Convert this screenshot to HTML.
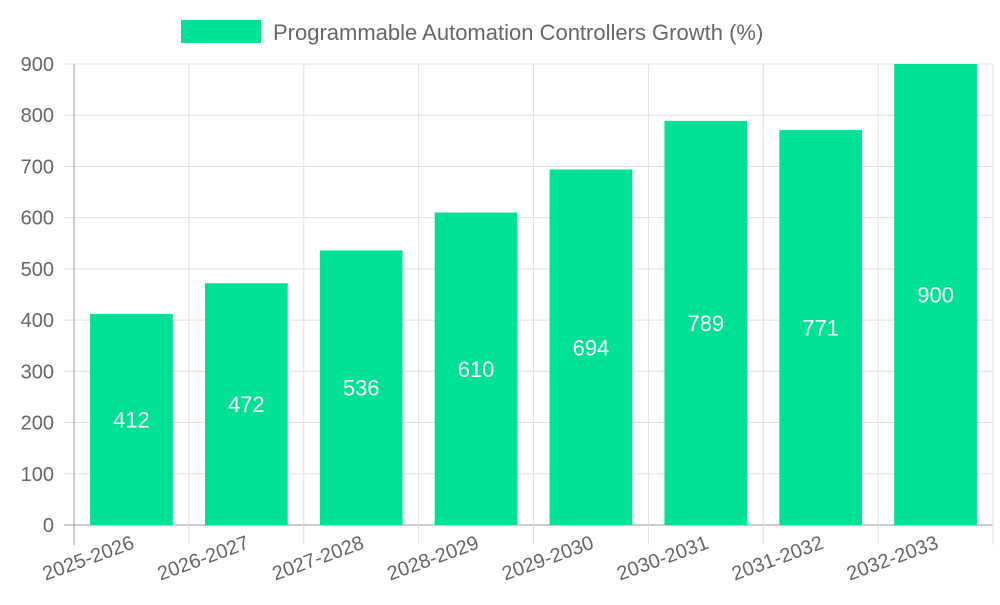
<!DOCTYPE html>
<html><head><meta charset="utf-8"><style>
body{margin:0;background:#fff}
svg{font-family:"Liberation Sans",sans-serif}
</style></head><body>
<svg id="chart" width="1000" height="600">
<g id="grid"></g><g id="bars"></g><g id="labels"></g>
<rect x="181" y="20" width="80" height="23" fill="#00e096"/>
<text x="273" y="40" font-size="22" fill="#666">Programmable Automation Controllers Growth (%)</text>
</svg>
<script>
const categories=["2025-2026","2026-2027","2027-2028","2028-2029","2029-2030","2030-2031","2031-2032","2032-2033"];
const values=[412,472,536,610,694,789,771,900];
const yTicks=[0,100,200,300,400,500,600,700,800,900];
const L=74,R=993,T=64,B=525,ymax=900;
const NS="http://www.w3.org/2000/svg";
const step=(R-L)/categories.length;
const y=v=>B-(v/ymax)*(B-T);
const x=i=>L+i*step;
function mk(tag,attrs,parent,text){const e=document.createElementNS(NS,tag);for(const k in attrs)e.setAttribute(k,attrs[k]);if(text!==undefined)e.textContent=text;document.getElementById(parent).appendChild(e);return e;}
yTicks.forEach(t=>{
 const g=mk('line',{x1:64,x2:R,y1:y(t),y2:y(t),stroke:t===0?'#999':'#e0e0e0','stroke-width':1},'grid');
 
 
 const lb=mk('text',{x:54,y:y(t)+7,'text-anchor':'end','font-size':20,fill:'#666'},'grid',t);
 
 
});
for(let i=0;i<=categories.length;i++){
 const g=mk('line',{x1:x(i),x2:x(i),y1:T,y2:545,stroke:i===0?'#999':'#e0e0e0','stroke-width':1},'grid');
 
 
}
categories.forEach((c,i)=>{
 const bw=step*0.72,cx=x(i)+step/2;
 const r=mk('rect',{x:cx-bw/2,y:y(values[i]),width:bw,height:B-y(values[i]),fill:'#00e096'},'bars');
 
 
 const v=mk('text',{x:cx,y:(y(values[i])+B)/2+8,'text-anchor':'middle','font-size':22,fill:'#fff'},'labels',values[i]);
 
 
 const xl=mk('text',{x:cx+4,y:548,'text-anchor':'end','font-size':20,fill:'#666',transform:`rotate(-20 ${cx+4} 548)`},'labels',c);
 
 
});
</script>
</body></html>
